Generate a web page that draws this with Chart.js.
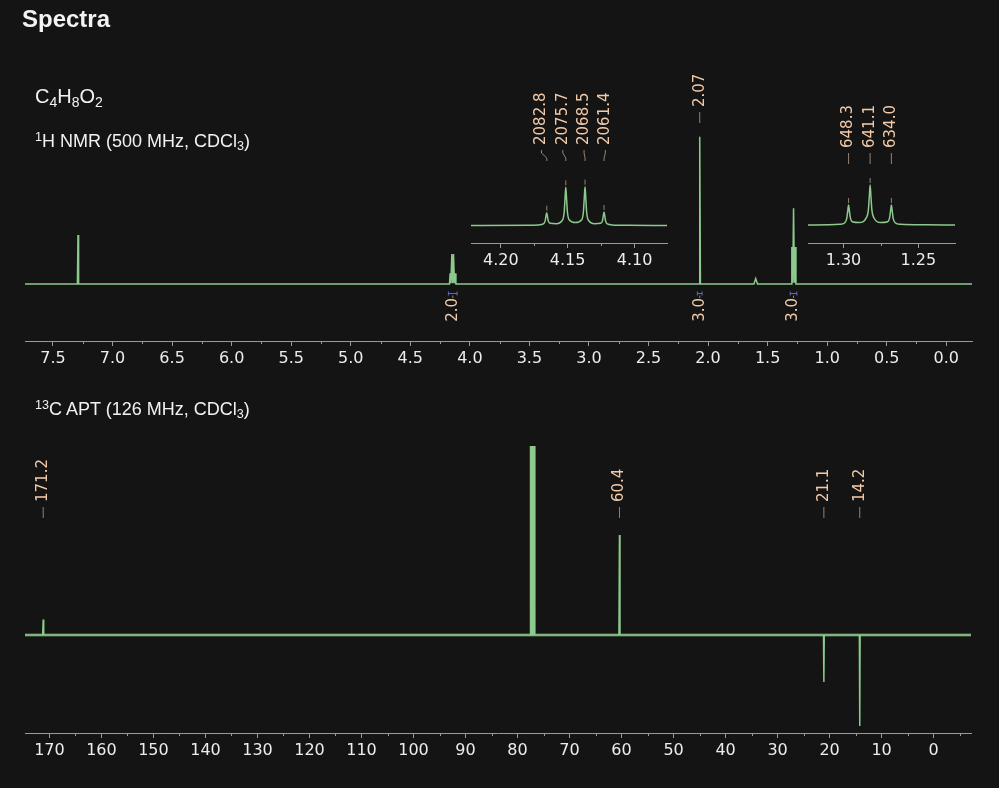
<!DOCTYPE html>
<html>
<head>
<meta charset="utf-8">
<script src="https://cdn.jsdelivr.net/npm/chart.js@4.4.1/dist/chart.umd.min.js"></script>
<style>
  html, body { margin: 0; padding: 0; background: #141414; width: 999px; height: 788px; overflow: hidden; }
  canvas { position: absolute; }
  .t { position: absolute; color: #f2f2f2; font-family: "Liberation Sans", Arial, sans-serif; white-space: nowrap; }
  .t .sb { font-size: 0.7em; vertical-align: -0.3em; }
  .t .sp { font-size: 0.7em; vertical-align: 0.45em; }
</style>
</head>
<body>
<canvas id="hMain" width="999" height="381" style="left:0;top:0"></canvas>
<canvas id="hQuart" width="220" height="200" style="left:460px;top:80px"></canvas>
<canvas id="hTrip" width="170" height="200" style="left:800px;top:80px"></canvas>
<canvas id="cMain" width="999" height="393" style="left:0;top:380px"></canvas>

<div class="t" style="left:22px;top:7px;font-size:24px;line-height:24px;font-weight:bold">Spectra</div>
<div class="t" style="left:35px;top:86px;font-size:20px;line-height:20px">C<span class="sb">4</span>H<span class="sb">8</span>O<span class="sb">2</span></div>
<div class="t" style="left:35px;top:128px;font-size:18px;line-height:18px"><span class="sp">1</span>H NMR (500 MHz, CDCl<span class="sb">3</span>)</div>
<div class="t" style="left:35px;top:396px;font-size:18px;line-height:18px"><span class="sp">13</span>C APT (126 MHz, CDCl<span class="sb">3</span>)</div>

<script>
// ---- 1H spectrum (ppm / relative intensity, 2.07 singlet = 100) ----
const hShift = [7.735, 7.295, 7.29, 7.285,
  4.171, 4.1657, 4.159, 4.1514, 4.144, 4.137, 4.130, 4.1228, 4.117,
  2.076, 2.07, 2.064,
  1.615, 1.60, 1.585,
  1.302, 1.2966, 1.289, 1.2822, 1.275, 1.268, 1.262,
  -0.216];
const hInt = [0, 0, 33.3, 0,
  0, 7.3, 0.6, 20.4, 0.6, 20.4, 0.6, 7.3, 0,
  0, 100, 0,
  0, 3.7, 0,
  0, 25.1, 0.8, 51.4, 0.8, 25.1, 0,
  0];

// quartet zoom (ppm / height)
const qShift = [4.2223, 4.180, 4.1717, 4.1682, 4.1669, 4.1662, 4.1657, 4.1652, 4.1645, 4.1632,
  4.1585, 4.1539, 4.1526, 4.1519, 4.1514, 4.1509, 4.1502, 4.1489,
  4.1442, 4.1395, 4.1382, 4.1375, 4.1370, 4.1365, 4.1358, 4.1345,
  4.1299, 4.1253, 4.1240, 4.1233, 4.1228, 4.1223, 4.1216, 4.1203, 4.1168, 4.105, 4.0757];
const qInt = [0.2, 0.4, 0.8, 1.8, 4.6, 9.8, 13, 9.8, 4.8, 2.4,
  2.0, 5.5, 13.5, 29, 38.4, 29, 14, 6,
  3.2, 6, 14, 29.5, 39, 29.5, 13.5, 5.5,
  2.0, 2.4, 4.8, 10.3, 13.7, 10.3, 4.6, 1.8, 0.8, 0.4, 0.2];
const qPeaksHz = [2082.8, 2075.7, 2068.5, 2061.4];
const qPeakInt = [13, 38.4, 39, 13.7];

// triplet zoom
const tShift = [1.3237, 1.310, 1.3026, 1.2991, 1.2978, 1.2971, 1.2966, 1.2961, 1.2954, 1.2941,
  1.2894, 1.2847, 1.2834, 1.2827, 1.2822, 1.2817, 1.2810, 1.2797,
  1.2751, 1.2705, 1.2692, 1.2685, 1.2680, 1.2675, 1.2668, 1.2655, 1.2620, 1.245, 1.2255];
const tInt = [0.2, 0.5, 1.0, 2.6, 7, 15, 20.3, 15, 7.5, 3.6,
  2.8, 7.6, 15, 30, 40.3, 30, 15, 7.6,
  2.8, 3.6, 7.5, 15, 20.3, 15, 7, 2.6, 1.0, 0.5, 0.2];
const tPeaksHz = [648.3, 641.1, 634.0];
const tPeakInt = [20.3, 40.3, 20.3];

const MHZ = 500;
const singlets = [2.07];
const intFrom = [4.18, 2.09, 1.31];
const intTo = [4.107, 2.05, 1.255];
const intValues = ['2.0', '3.0', '3.0'];

// ---- 13C APT spectrum ----
const cShift = [174.7, 171.3, 171.2, 171.1,
  77.55, 77.5, 77.4, 77.3, 77.2, 77.1, 77.0, 76.9, 76.8, 76.7, 76.65,
  60.5, 60.4, 60.3,
  21.17, 21.1, 21.03,
  14.27, 14.2, 14.13,
  -7.19];
const cInt = [0, 0, 15.5, 0,
  0, 300, 0, 300, 0, 300, 0, 300, 0, 300, 0,
  0, 100, 0,
  0, -47, 0,
  0, -91, 0,
  0];
const cPeaks = [171.2, 60.4, 21.1, 14.2];

// ---- styles ----
const GREEN = '#8dc98d';
const AXIS = '#9a9a9a';
const TICK = '#ececec';
const PEACH = '#f2caa8';
const PEACH_DIM = 'rgba(242,202,168,0.6)';
const BLUE = '#5a6ad0';
const LABEL_FONT = '15px "DejaVu Sans", Verdana, sans-serif';
const LABEL_GAP = 21.3;

const trace = (xs, ys, w) => ({
  data: xs.map((x, i) => ({ x, y: ys[i] })),
  borderColor: GREEN, borderWidth: w || 1.5, pointRadius: 0, fill: false
});

const isMajor = (v, major) => Math.abs(v / major - Math.round(v / major)) < 1e-6;

function xAxis(min, max, step, major, digits, height) {
  return {
    type: 'linear', reverse: true, min, max,
    afterFit: s => { s.height = height; },
    border: { color: AXIS, width: 1 },
    grid: {
      drawOnChartArea: false, tickLength: 5,
      tickColor: c => (c.tick && !isMajor(c.tick.value, major)) ? 'rgba(0,0,0,0)' : AXIS
    },
    ticks: {
      stepSize: step, includeBounds: false, autoSkip: false, maxRotation: 0, padding: 3,
      color: TICK, font: { family: 'DejaVu Sans', size: 16 },
      callback: v => isMajor(v, major) ? Math.abs(v).toFixed(digits) : ''
    }
  };
}

function options(pad, x, yMin, yMax) {
  return {
    responsive: false, animation: false, events: [],
    layout: { padding: pad },
    plugins: { legend: { display: false }, tooltip: { enabled: false } },
    elements: { line: { tension: 0 } },
    scales: { x, y: { display: false, min: yMin, max: yMax } }
  };
}

function path(ctx, pts) {
  ctx.beginPath();
  pts.forEach((p, i) => i ? ctx.lineTo(p[0], p[1]) : ctx.moveTo(p[0], p[1]));
  ctx.stroke();
}

function vText(ctx, text, x, y, align) {
  ctx.save();
  ctx.translate(x, y);
  ctx.rotate(-Math.PI / 2);
  ctx.textAlign = align;
  ctx.textBaseline = 'middle';
  ctx.fillText(text, 0, 0);
  ctx.restore();
}

function minorTicks(major) {
  return {
    id: 'minorTicks',
    afterDraw(chart) {
      const s = chart.scales.x, ctx = chart.ctx;
      ctx.save();
      ctx.strokeStyle = AXIS; ctx.lineWidth = 1;
      s.ticks.forEach(t => {
        if (isMajor(t.value, major)) return;
        const p = Math.round(s.getPixelForValue(t.value)) + 0.5;
        path(ctx, [[p, s.top], [p, s.top + 3]]);
      });
      ctx.restore();
    }
  };
}

// peak labels: rotated text, connector, optional tick above each peak top
function peakMarks(cfg) {
  return {
    id: 'peakMarks',
    afterDatasetsDraw(chart) {
      const { ctx, scales: { x, y } } = chart;
      const px = cfg.at.map(v => x.getPixelForValue(v));
      let lx = px.slice();
      if (px.some((p, i) => i > 0 && Math.abs(p - px[i - 1]) < 20.5)) {
        const mid = (px[0] + px[px.length - 1]) / 2 - 2;
        lx = px.map((p, i) => mid + (i - (px.length - 1) / 2) * LABEL_GAP);
      }
      const b = cfg.bottom;
      ctx.save();
      ctx.font = LABEL_FONT; ctx.fillStyle = PEACH; ctx.strokeStyle = PEACH_DIM; ctx.lineWidth = 1;
      cfg.text.forEach((t, i) => {
        vText(ctx, t, lx[i], b, 'left');
        path(ctx, [[lx[i], b + 5], [lx[i], b + 8], [px[i], b + 13], [px[i], b + 16]]);
        if (cfg.tops) {
          const ty = y.getPixelForValue(cfg.tops[i]);
          path(ctx, [[px[i], ty - 7], [px[i], ty - 2]]);
        }
      });
      ctx.restore();
    }
  };
}

const integrals = {
  id: 'integrals',
  afterDatasetsDraw(chart) {
    const { ctx, scales: { x } } = chart;
    ctx.save();
    ctx.lineWidth = 1;
    intValues.forEach((t, i) => {
      const a = x.getPixelForValue(intFrom[i]), b = x.getPixelForValue(intTo[i]), c = (a + b) / 2;
      ctx.strokeStyle = BLUE;
      path(ctx, [[a, 293.5], [b, 293.5]]);
      path(ctx, [[a, 291.5], [a, 295.5]]);
      path(ctx, [[b, 291.5], [b, 295.5]]);
      ctx.strokeStyle = PEACH_DIM;
      path(ctx, [[c, 295.5], [c, 298]]);
      ctx.fillStyle = PEACH; ctx.font = LABEL_FONT;
      vText(ctx, t, c, 298, 'right');
    });
    ctx.restore();
  }
};

// ---- charts ----
new Chart(document.getElementById('hMain'), {
  type: 'line',
  data: { datasets: [trace(hShift, hInt)] },
  options: options({ left: 25, right: 27, top: 60, bottom: 0 },
    xAxis(-0.216, 7.735, 0.25, 0.5, 1, 40), -38.7, 152.07),
  plugins: [minorTicks(0.5), integrals,
    peakMarks({ at: singlets, text: singlets.map(v => v.toFixed(2)), bottom: 107 })]
});

new Chart(document.getElementById('hQuart'), {
  type: 'line',
  data: { datasets: [Object.assign(trace(qShift, qInt), { cubicInterpolationMode: 'monotone' })] },
  options: options({ left: 11, right: 13, top: 10, bottom: 0 },
    xAxis(4.0757, 4.2223, 0.025, 0.05, 2, 37), -17.3, 135.7),
  plugins: [minorTicks(0.05),
    peakMarks({ at: qPeaksHz.map(h => h / MHZ), text: qPeaksHz.map(h => h.toFixed(1)), tops: qPeakInt, bottom: 65 })]
});

new Chart(document.getElementById('hTrip'), {
  type: 'line',
  data: { datasets: [Object.assign(trace(tShift, tInt), { cubicInterpolationMode: 'monotone' })] },
  options: options({ left: 8, right: 15, top: 10, bottom: 0 },
    xAxis(1.2255, 1.3237, 0.025, 0.05, 2, 37), -17.7, 135.3),
  plugins: [minorTicks(0.05),
    peakMarks({ at: tPeaksHz.map(h => h / MHZ), text: tPeaksHz.map(h => h.toFixed(1)), tops: tPeakInt, bottom: 68 })]
});

new Chart(document.getElementById('cMain'), {
  type: 'line',
  data: {
    datasets: [
      { data: [{ x: 174.7, y: 0 }, { x: -7.19, y: 0 }], borderColor: 'rgba(141,201,141,0.55)', borderWidth: 3, pointRadius: 0 },
      trace(cShift, cInt)
    ]
  },
  options: options({ left: 25, right: 28, top: 66, bottom: 0 },
    xAxis(-7.19, 174.7, 5, 10, 0, 40), -98, 189),
  plugins: [minorTicks(10),
    peakMarks({ at: cPeaks, text: cPeaks.map(v => v.toFixed(1)), bottom: 122 })]
});
</script>
</body>
</html>
